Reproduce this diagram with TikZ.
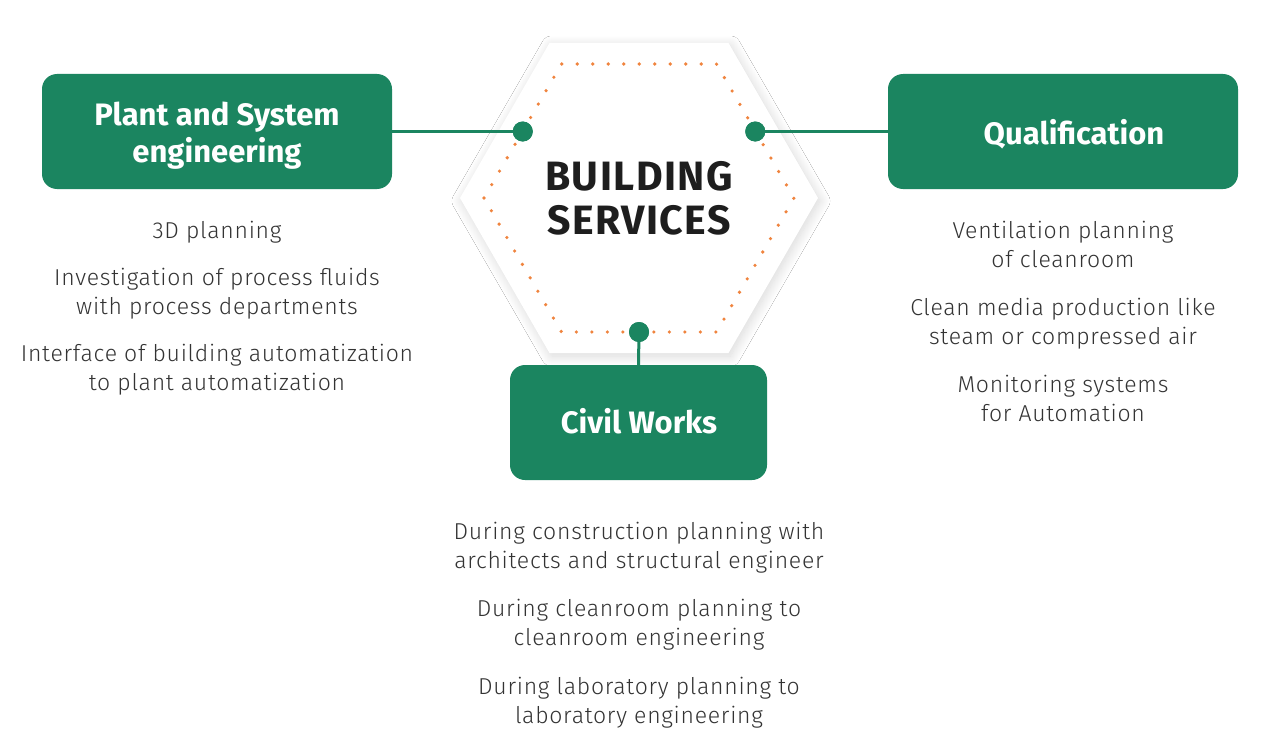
\documentclass[tikz,border=0pt]{standalone}
\usepackage{fontspec}
\setmainfont{Fira Sans}
\newfontfamily\lightfont[LetterSpace=3.2]{Fira Sans Light}
\newfontfamily\heavyfont[LetterSpace=3.5]{Fira Sans Bold}
\usetikzlibrary{shadows.blur}
\definecolor{brandgreen}{RGB}{27,133,96}
\definecolor{dotorange}{RGB}{240,132,62}
\definecolor{bodygray}{RGB}{51,51,51}
\definecolor{titleblack}{RGB}{30,30,30}
\begin{document}
\begin{tikzpicture}[x=1pt,y=-1pt,
  gbox/.style={fill=brandgreen, rounded corners=15pt, inner sep=0pt},
  boxtitle/.style={font=\bfseries\fontsize{31}{37}\selectfont, text=white, anchor=base, inner sep=0pt},
  gdot/.style={circle, fill=brandgreen, minimum size=20pt, inner sep=0pt},
  conn/.style={draw=brandgreen, line width=3pt},
  txt/.style={font=\lightfont\fontsize{23}{27}\selectfont, text=bodygray, anchor=base, inner sep=0pt},
  hextitle/.style={font=\heavyfont\fontsize{41}{44}\selectfont, text=titleblack, anchor=base, inner sep=0pt}
]
\useasboundingbox (0,0) rectangle (1280,752);
\fill[white] (0,0) rectangle (1280,752);

% outer hexagon with soft shadow
\fill[white, blur shadow={shadow xshift=2pt, shadow yshift=-3pt, shadow blur radius=10pt, shadow opacity=16, shadow blur steps=20}]
  (460,198) -- (549.5,43) -- (728.5,43) -- (818,198) -- (728.5,353) -- (549.5,353) -- cycle;

% dotted inner hexagon
\draw[dotorange, line width=3.6pt, line cap=round, dash pattern=on 0pt off 15.5pt]
  (484,198) -- (561.5,64) -- (716.5,64) -- (794,198) -- (716.5,332) -- (561.5,332) -- cycle;

% title
\node[hextitle] (t1) at (639,190) {BUILDING};
\node[hextitle] (t2) at (639,234) {SERVICES};

% boxes
\node[gbox, minimum width=350pt, minimum height=115pt] (bl) at (217,131.5) {};
\node[gbox, minimum width=350pt, minimum height=115pt] (br) at (1063,131.5) {};
\node[gbox, minimum width=257pt, minimum height=115pt] (bc) at (638.5,422.5) {};
\node[boxtitle] (bl1) at (217,125) {Plant and System};
\node[boxtitle] (bl2) at (217,162) {engineering};
\node[boxtitle] (br1) at (1074,144) {Qualification};
\node[boxtitle] (bc1) at (639,433) {Civil Works};

% dots
\node[gdot] (dl) at (522.75,131.5) {};
\node[gdot] (dr) at (755.25,131.5) {};
\node[gdot] (db) at (639,332) {};

% connectors
\draw[conn] (bl.east) -- (dl.center);
\draw[conn] (dr.center) -- (br.west);
\draw[conn] (db.center) -- (bc.north);
\node[gdot] at (dl) {};
\node[gdot] at (dr) {};
\node[gdot] at (db) {};

% left column
\node[txt] (l1) at (217,238) {3D planning};
\node[txt] (l2) at (217,285) {Investigation of process fluids};
\node[txt] (l3) at (217,314) {with process departments};
\node[txt] (l4) at (217,361) {Interface of building automatization};
\node[txt] (l5) at (217,390) {to plant automatization};

% right column
\node[txt] (r1) at (1063,238) {Ventilation planning};
\node[txt] (r2) at (1063,267) {of cleanroom};
\node[txt] (r3) at (1063,315) {Clean media production like};
\node[txt] (r4) at (1063,344) {steam or compressed air};
\node[txt] (r5) at (1063,392) {Monitoring systems};
\node[txt] (r6) at (1063,421) {for Automation};

% bottom column
\node[txt] (c1) at (639,539) {During construction planning with};
\node[txt] (c2) at (639,568) {architects and structural engineer};
\node[txt] (c3) at (639,616) {During cleanroom planning to};
\node[txt] (c4) at (639,645) {cleanroom engineering};
\node[txt] (c5) at (639,694) {During laboratory planning to};
\node[txt] (c6) at (639,723) {laboratory engineering};
\end{tikzpicture}
\end{document}
